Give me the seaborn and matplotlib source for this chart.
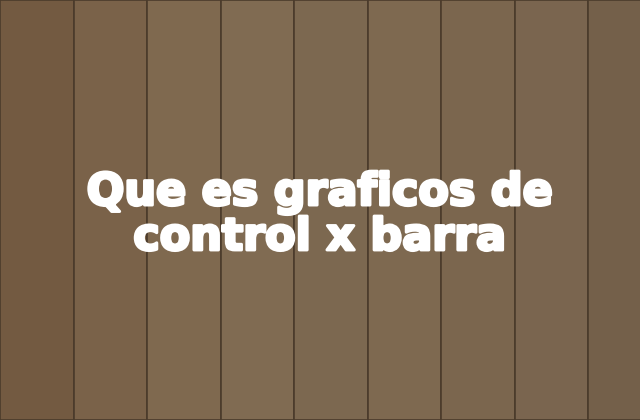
import matplotlib
matplotlib.use('Agg')
import matplotlib.pyplot as plt
import matplotlib.patheffects as pe
import seaborn as sns
import pandas as pd

# wooden planks behind the title: one full-height bar per plank
planks = ['p0', 'p1', 'p2', 'p3', 'p4', 'p5', 'p6', 'p7', 'p8']
plank_height = [1, 1, 1, 1, 1, 1, 1, 1, 1]
plank_colors = ['#735a41', '#7a6249', '#7f694f', '#806b52', '#7c6850',
                '#7e6950', '#7b664e', '#7a654f', '#74604a']
title_lines = ['Que es graficos de', 'control x barra']

df = pd.DataFrame({'plank': planks, 'h': plank_height})

sns.set_theme(style='white')
plt.rcParams['font.family'] = ['DejaVu Sans']

fig = plt.figure(figsize=(6.4, 4.2), dpi=100)
ax = fig.add_axes([0, 0, 1, 1])
sns.barplot(data=df, x='plank', y='h', hue='plank', palette=plank_colors,
            saturation=1, width=1.0, legend=False, ax=ax,
            edgecolor='#4b3b2b', linewidth=1.2)

# plank width ~73.5px of 640px
ax.set_xlim(-0.5, -0.5 + 640 / 73.5)
ax.set_ylim(0, 1)
ax.axis('off')

thick = [pe.withStroke(linewidth=2.2, foreground='white')]
ax.text(0.5, 0.512, title_lines[0], transform=ax.transAxes, ha='center',
        va='baseline', color='white', fontsize=32, fontweight='bold',
        path_effects=thick)
ax.text(0.5, 0.405, title_lines[1], transform=ax.transAxes, ha='center',
        va='baseline', color='white', fontsize=32, fontweight='bold',
        path_effects=thick)

fig.savefig('out.png', dpi=100)
